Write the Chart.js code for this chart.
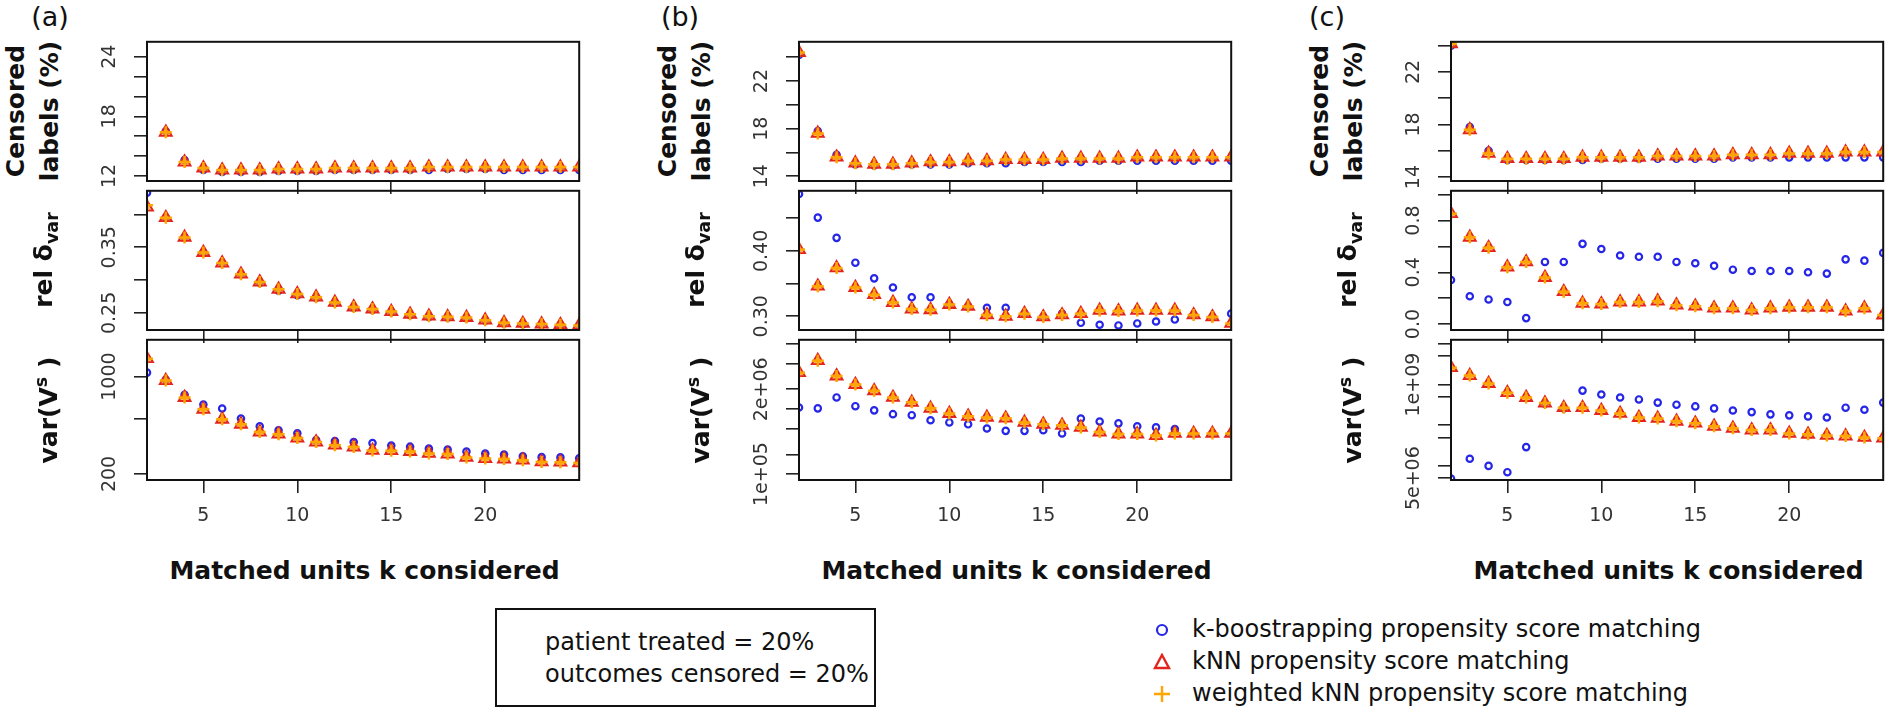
<!DOCTYPE html>
<html>
<head>
<meta charset="utf-8">
<title>Matched units k considered</title>
<script src="https://cdn.jsdelivr.net/npm/chart.js@4.4.1/dist/chart.umd.min.js"></script>
<style>
  body { margin: 0; width: 1895px; height: 711px; background: #fff; position: relative; overflow: hidden;
         font-family: "DejaVu Sans", "Liberation Sans", sans-serif; color: #111; }
  canvas { position: absolute; }
  .tag { position: absolute; font-size: 27px; transform: translate(-50%, -50%); }
  .ytitle { position: absolute; font-weight: bold; font-size: 25px; line-height: 34px; white-space: nowrap;
            text-align: center; transform: translate(-50%, -50%) rotate(-90deg); }
  .ytitle sub, .ytitle sup { font-size: 70%; font-weight: bold; }
  .xtitle { position: absolute; font-weight: bold; font-size: 25px; white-space: nowrap; transform: translate(-50%, -50%); }
  #infoBox { position: absolute; left: 495px; top: 608px; width: 377px; height: 95px; border: 2px solid #111;
             font-size: 24px; line-height: 32px; box-sizing: content-box; }
  #infoBox div { position: absolute; left: 48px; }
  .leg { position: absolute; left: 1150px; height: 30px; font-size: 24px; line-height: 30px; white-space: nowrap; }
  .leg svg { position: absolute; left: 0; top: 7px; }
  .leg span { position: absolute; left: 42px; top: 0; }
</style>
</head>
<body>

<script>
// matched units k on the x axis
const kValues = [2, 3, 4, 5, 6, 7, 8, 9, 10, 11, 12, 13, 14, 15, 16, 17, 18, 19, 20, 21, 22, 23, 24, 25];
const xTicks = [5, 10, 15, 20];

// (a) censored labels (%)
const bootA1 = [null, 16.5, 13.6, 12.6, 12.4, 12.4, 12.4, 12.5, 12.5, 12.5, 12.6, 12.6, 12.6, 12.6, 12.6, 12.6, 12.7, 12.7, 12.7, 12.6, 12.6, 12.6, 12.6, 12.6];
const knnA1  = [null, 16.4, 13.4, 12.8, 12.6, 12.6, 12.6, 12.7, 12.7, 12.7, 12.8, 12.8, 12.8, 12.8, 12.8, 12.9, 12.9, 12.9, 12.9, 12.9, 12.9, 12.9, 12.9, 12.9];
const wknnA1 = [null, 16.4, 13.4, 12.8, 12.6, 12.6, 12.6, 12.7, 12.7, 12.7, 12.8, 12.8, 12.8, 12.8, 12.8, 12.9, 12.9, 12.9, 12.9, 12.9, 12.9, 12.9, 12.9, 12.9];
// (a) rel delta var
const bootA2 = [0.433, 0.395, 0.365, 0.342, 0.326, 0.309, 0.296, 0.284, 0.277, 0.273, 0.265, 0.258, 0.255, 0.251, 0.247, 0.244, 0.243, 0.242, 0.238, 0.234, 0.233, 0.232, 0.231, 0.230];
const knnA2  = [0.411, 0.395, 0.365, 0.342, 0.326, 0.309, 0.297, 0.286, 0.279, 0.274, 0.266, 0.259, 0.256, 0.252, 0.248, 0.245, 0.244, 0.243, 0.239, 0.235, 0.234, 0.233, 0.232, 0.231];
const wknnA2 = [0.414, 0.395, 0.365, 0.342, 0.326, 0.309, 0.297, 0.286, 0.279, 0.274, 0.266, 0.259, 0.256, 0.252, 0.248, 0.245, 0.244, 0.243, 0.239, 0.235, 0.234, 0.233, 0.232, 0.231];
// (a) var(V^s)
const bootA3 = [1068, 950, 740, 631, 590, 500, 440, 412, 392, 350, 344, 339, 333, 320, 314, 304, 299, 290, 280, 276, 268, 264, 263, 259];
const knnA3  = [1345, 936, 708, 582, 494, 455, 400, 386, 362, 339, 322, 312, 295, 294, 290, 281, 278, 263, 258, 256, 251, 244, 243, 240];
const wknnA3 = [1345, 936, 708, 582, 494, 455, 400, 386, 362, 339, 322, 312, 295, 294, 290, 281, 278, 263, 258, 256, 251, 244, 243, 240];

// (b)
const bootB1 = [24.2, 17.8, 15.8, 15.0, 14.9, 14.9, 15.0, 15.0, 15.0, 15.1, 15.1, 15.1, 15.2, 15.2, 15.2, 15.2, 15.3, 15.3, 15.3, 15.3, 15.3, 15.3, 15.3, 15.3];
const knnB1  = [24.4, 17.6, 15.6, 15.1, 15.0, 15.0, 15.1, 15.2, 15.2, 15.3, 15.3, 15.4, 15.4, 15.4, 15.5, 15.5, 15.5, 15.5, 15.6, 15.6, 15.6, 15.6, 15.6, 15.6];
const wknnB1 = [24.4, 17.6, 15.6, 15.1, 15.0, 15.0, 15.1, 15.2, 15.2, 15.3, 15.3, 15.4, 15.4, 15.4, 15.5, 15.5, 15.5, 15.5, 15.6, 15.6, 15.6, 15.6, 15.6, 15.6];
const bootB2 = [0.487, 0.451, 0.420, 0.382, 0.358, 0.344, 0.329, 0.329, 0.318, 0.315, 0.313, 0.313, 0.304, 0.299, 0.304, 0.290, 0.287, 0.286, 0.289, 0.292, 0.295, 0.302, 0.299, 0.304];
const knnB2  = [0.402, 0.346, 0.374, 0.344, 0.333, 0.321, 0.311, 0.310, 0.318, 0.315, 0.302, 0.300, 0.304, 0.299, 0.302, 0.304, 0.309, 0.308, 0.309, 0.309, 0.309, 0.302, 0.299, 0.289];
const wknnB2 = [0.402, 0.346, 0.374, 0.344, 0.333, 0.321, 0.311, 0.310, 0.318, 0.315, 0.302, 0.300, 0.304, 0.299, 0.302, 0.304, 0.309, 0.308, 0.309, 0.309, 0.309, 0.302, 0.299, 0.289];
const bootB3 = [1.05e6, 1.02e6, 1.5e6, 1.1e6, 9.5e5, 8.3e5, 8.0e5, 6.7e5, 6.2e5, 5.8e5, 5.0e5, 4.6e5, 4.6e5, 4.7e5, 4.2e5, 7.1e5, 6.4e5, 6.0e5, 5.4e5, 5.2e5, 4.9e5, 4.2e5, 4.2e5, 4.2e5];
const knnB3  = [3.6e6, 5.5e6, 3.2e6, 2.37e6, 1.9e6, 1.5e6, 1.26e6, 1.02e6, 8.5e5, 7.7e5, 7.4e5, 7.2e5, 6.2e5, 5.8e5, 5.6e5, 5.2e5, 4.4e5, 4.1e5, 4.1e5, 3.9e5, 4.2e5, 4.2e5, 4.2e5, 4.2e5];
const wknnB3 = [3.6e6, 5.5e6, 3.2e6, 2.37e6, 1.9e6, 1.5e6, 1.26e6, 1.02e6, 8.5e5, 7.7e5, 7.4e5, 7.2e5, 6.2e5, 5.8e5, 5.6e5, 5.2e5, 4.4e5, 4.1e5, 4.1e5, 3.9e5, 4.2e5, 4.2e5, 4.2e5, 4.2e5];

// (c)
const bootC1 = [24.0, 17.8, 16.0, 15.3, 15.3, 15.3, 15.3, 15.3, 15.4, 15.4, 15.4, 15.4, 15.4, 15.4, 15.4, 15.5, 15.5, 15.5, 15.5, 15.5, 15.5, 15.5, 15.5, 15.5];
const knnC1  = [24.15, 17.6, 15.8, 15.4, 15.4, 15.4, 15.4, 15.5, 15.5, 15.5, 15.5, 15.6, 15.6, 15.6, 15.6, 15.7, 15.7, 15.7, 15.8, 15.8, 15.8, 15.9, 15.9, 15.9];
const wknnC1 = [24.15, 17.6, 15.8, 15.4, 15.4, 15.4, 15.4, 15.5, 15.5, 15.5, 15.5, 15.6, 15.6, 15.6, 15.6, 15.7, 15.7, 15.7, 15.8, 15.8, 15.8, 15.9, 15.9, 15.9];
const bootC2 = [0.34, 0.215, 0.19, 0.17, 0.046, 0.48, 0.48, 0.62, 0.58, 0.53, 0.52, 0.52, 0.48, 0.47, 0.45, 0.42, 0.41, 0.41, 0.41, 0.40, 0.39, 0.50, 0.49, 0.55];
const knnC2  = [0.853, 0.67, 0.59, 0.44, 0.48, 0.36, 0.25, 0.16, 0.155, 0.17, 0.17, 0.177, 0.146, 0.138, 0.123, 0.123, 0.108, 0.123, 0.13, 0.13, 0.13, 0.10, 0.123, 0.07];
const wknnC2 = [0.853, 0.67, 0.59, 0.44, 0.48, 0.36, 0.25, 0.16, 0.155, 0.17, 0.17, 0.177, 0.146, 0.138, 0.123, 0.123, 0.108, 0.123, 0.13, 0.13, 0.13, 0.10, 0.123, 0.07];
const bootC3 = [4.9e6, 1.5e7, 1.0e7, 7.0e6, 2.9e7, 3.4e8, 2.6e8, 7.1e8, 5.7e8, 4.8e8, 4.3e8, 3.6e8, 3.2e8, 2.9e8, 2.6e8, 2.3e8, 2.1e8, 1.85e8, 1.75e8, 1.65e8, 1.55e8, 2.7e8, 2.4e8, 3.6e8];
const knnC3  = [2.6e9, 1.66e9, 1.06e9, 6.3e8, 4.8e8, 3.5e8, 2.7e8, 2.7e8, 2.3e8, 1.95e8, 1.55e8, 1.47e8, 1.25e8, 1.12e8, 9.4e7, 8.4e7, 7.6e7, 7.6e7, 6.3e7, 6.0e7, 5.6e7, 5.4e7, 5.0e7, 4.8e7];
const wknnC3 = [2.6e9, 1.66e9, 1.06e9, 6.3e8, 4.8e8, 3.5e8, 2.7e8, 2.7e8, 2.3e8, 1.95e8, 1.55e8, 1.47e8, 1.25e8, 1.12e8, 9.4e7, 8.4e7, 7.6e7, 7.6e7, 6.3e7, 6.0e7, 5.6e7, 5.4e7, 5.0e7, 4.8e7];

// y axis limits, tick marks, and which ticks carry a label
const yLimits = {
  A1: [11.5, 25.5], A2: [0.224, 0.436], A3: [181, 1837],
  B1: [13.6, 25.3], B2: [0.279, 0.492], B3: [8.1e4, 1.15e7],
  C1: [13.7, 24.3], C2: [-0.046, 1.03], C3: [4.5e6, 1.26e10]
};
const yTicksA1 = [12, 14, 16, 18, 20, 22, 24], yLabA1 = [12, 18, 24], yTxtA1 = ['12', '18', '24'];
const yTicksA2 = [0.25, 0.30, 0.35, 0.40], yLabA2 = [0.25, 0.35], yTxtA2 = ['0.25', '0.35'];
const yTicksA3 = [200, 500, 1000], yLabA3 = [200, 1000], yTxtA3 = ['200', '1000'];
const yTicksB1 = [14, 16, 18, 20, 22, 24], yLabB1 = [14, 18, 22], yTxtB1 = ['14', '18', '22'];
const yTicksB2 = [0.30, 0.35, 0.40, 0.45], yLabB2 = [0.30, 0.40], yTxtB2 = ['0.30', '0.40'];
const yTicksB3 = [1e5, 2e5, 5e5, 1e6, 2e6, 5e6, 1e7], yLabB3 = [1e5, 2e6], yTxtB3 = ['1e+05', '2e+06'];
const yTicksC1 = [14, 16, 18, 20, 22, 24], yLabC1 = [14, 18, 22], yTxtC1 = ['14', '18', '22'];
const yTicksC2 = [0, 0.2, 0.4, 0.6, 0.8, 1.0], yLabC2 = [0, 0.4, 0.8], yTxtC2 = ['0.0', '0.4', '0.8'];
const yTicksC3 = [5e6, 1e7, 5e7, 1e8, 5e8, 1e9, 5e9, 1e10], yLabC3 = [5e6, 1e9], yTxtC3 = ['5e+06', '1e+09'];

const colTags = ['(a)', '(b)', '(c)'];
const rowTitles = ['Censored<br>labels (%)', 'rel \u03b4<sub>var</sub>', 'var(V<sup>s</sup> )'];
const xTitle = 'Matched units k considered';
const seriesNames = ['k-boostrapping propensity score matching', 'kNN propensity score matching', 'weighted kNN propensity score matching'];

// layout of the 3x3 grid of panels (pixels)
const colLeft = [147, 799, 1451];
const rowTop = [41, 190, 339];
const rowH = [140, 140, 141];
const plotW = 435;
const Y_W = 70, PAD_T = 8, PAD_R = 6;

const BLUE = '#2626e8', RED = '#e3241c', ORANGE = '#ffa500';

Chart.defaults.font.family = '"DejaVu Sans", "Liberation Sans", sans-serif';

const panels = [
  { col: 0, row: 0, boot: bootA1, knn: knnA1, wknn: wknnA1, lim: yLimits.A1, log: false, ticks: yTicksA1, lab: yLabA1, txt: yTxtA1 },
  { col: 0, row: 1, boot: bootA2, knn: knnA2, wknn: wknnA2, lim: yLimits.A2, log: false, ticks: yTicksA2, lab: yLabA2, txt: yTxtA2 },
  { col: 0, row: 2, boot: bootA3, knn: knnA3, wknn: wknnA3, lim: yLimits.A3, log: true, ticks: yTicksA3, lab: yLabA3, txt: yTxtA3 },
  { col: 1, row: 0, boot: bootB1, knn: knnB1, wknn: wknnB1, lim: yLimits.B1, log: false, ticks: yTicksB1, lab: yLabB1, txt: yTxtB1 },
  { col: 1, row: 1, boot: bootB2, knn: knnB2, wknn: wknnB2, lim: yLimits.B2, log: false, ticks: yTicksB2, lab: yLabB2, txt: yTxtB2 },
  { col: 1, row: 2, boot: bootB3, knn: knnB3, wknn: wknnB3, lim: yLimits.B3, log: true, ticks: yTicksB3, lab: yLabB3, txt: yTxtB3 },
  { col: 2, row: 0, boot: bootC1, knn: knnC1, wknn: wknnC1, lim: yLimits.C1, log: false, ticks: yTicksC1, lab: yLabC1, txt: yTxtC1 },
  { col: 2, row: 1, boot: bootC2, knn: knnC2, wknn: wknnC2, lim: yLimits.C2, log: false, ticks: yTicksC2, lab: yLabC2, txt: yTxtC2 },
  { col: 2, row: 2, boot: bootC3, knn: knnC3, wknn: wknnC3, lim: yLimits.C3, log: true, ticks: yTicksC3, lab: yLabC3, txt: yTxtC3 }
];

function toXY(values) {
  return kValues.map((k, i) => ({ x: k, y: values[i] }));
}

// box around the plot region and the rotated y tick labels (R style)
const panelFrame = {
  id: 'panelFrame',
  afterDatasetsDraw(chart, args, opts) {
    const { ctx, chartArea: a } = chart;
    const ys = chart.scales.y;
    ctx.save();
    ctx.strokeStyle = '#111';
    ctx.lineWidth = 2;
    ctx.strokeRect(a.left, a.top, a.right - a.left, a.bottom - a.top);
    ctx.fillStyle = '#333';
    ctx.font = '19px "DejaVu Sans"';
    ctx.textAlign = 'center';
    ctx.textBaseline = 'alphabetic';
    opts.values.forEach((v, i) => {
      ctx.save();
      ctx.translate(a.left - 32, ys.getPixelForValue(v));
      ctx.rotate(-Math.PI / 2);
      ctx.fillText(opts.text[i], 0, 0);
      ctx.restore();
    });
    ctx.restore();
  }
};

function addPanel(p) {
  const bottomRow = p.row === 2;
  const h = rowH[p.row];
  const xH = bottomRow ? 60 : 16;
  const c = document.createElement('canvas');
  c.width = Y_W + plotW + PAD_R;
  c.height = PAD_T + h + xH;
  c.style.width = c.width + 'px';
  c.style.height = c.height + 'px';
  c.style.left = (colLeft[p.col] - Y_W) + 'px';
  c.style.top = (rowTop[p.row] - PAD_T) + 'px';
  document.body.appendChild(c);

  const tickGrid = { drawOnChartArea: false, drawTicks: true, tickLength: 13, color: '#222', lineWidth: 1.6 };

  new Chart(c.getContext('2d'), {
    type: 'scatter',
    data: {
      datasets: [
        { label: seriesNames[2], data: toXY(p.wknn), pointStyle: 'cross', pointRadius: 6,
          borderColor: ORANGE, borderWidth: 2.5, order: 1, clip: 0 },
        { label: seriesNames[1], data: toXY(p.knn), pointStyle: 'triangle', pointRadius: 7,
          borderColor: RED, backgroundColor: 'rgba(255,150,40,0.75)', borderWidth: 1.8, order: 2, clip: 0 },
        { label: seriesNames[0], data: toXY(p.boot), pointStyle: 'circle', pointRadius: 3.2,
          borderColor: BLUE, backgroundColor: 'rgba(0,0,0,0)', borderWidth: 2.2, order: 3, clip: 0 }
      ]
    },
    options: {
      responsive: false,
      maintainAspectRatio: false,
      animation: false,
      events: [],
      layout: { padding: { top: PAD_T, right: PAD_R, left: 0, bottom: 0 } },
      plugins: {
        legend: { display: false },
        tooltip: { enabled: false },
        panelFrame: { values: p.lab, text: p.txt }
      },
      scales: {
        x: {
          type: 'linear',
          min: 2,
          max: 25,
          afterBuildTicks: s => { s.ticks = xTicks.map(v => ({ value: v })); },
          afterFit: s => { s.height = xH; },
          grid: tickGrid,
          border: { display: false },
          ticks: { display: bottomRow, autoSkip: false, maxRotation: 0, padding: 12,
                   color: '#333', font: { size: 19 }, callback: v => String(v) }
        },
        y: {
          type: p.log ? 'logarithmic' : 'linear',
          min: p.lim[0],
          max: p.lim[1],
          afterBuildTicks: s => { s.ticks = p.ticks.map(v => ({ value: v })); },
          afterFit: s => { s.width = Y_W; },
          grid: tickGrid,
          border: { display: false },
          ticks: { display: false }
        }
      }
    },
    plugins: [panelFrame]
  });
}

function addText(cls, html, x, y) {
  const d = document.createElement('div');
  d.className = cls;
  d.innerHTML = html;
  d.style.left = x + 'px';
  d.style.top = y + 'px';
  document.body.appendChild(d);
  return d;
}

panels.forEach(addPanel);

const tagX = [50, 680, 1327];
const titleOffset = [114, 99, 102];
colLeft.forEach((left, ci) => {
  addText('tag', colTags[ci], tagX[ci], 16);
  rowTitles.forEach((t, ri) => {
    addText('ytitle', t, left - titleOffset[ri], rowTop[ri] + rowH[ri] / 2);
  });
  addText('xtitle', xTitle, left + plotW / 2, 570);
});

// settings box
const box = document.createElement('div');
box.id = 'infoBox';
box.innerHTML = '<div style="top:16px">patient treated = 20%</div><div style="top:48px">outcomes censored = 20%</div>';
document.body.appendChild(box);

// series legend
const legendRowsY = [614, 646, 678];
const symbols = [
  '<svg width="24" height="18"><circle cx="12" cy="9" r="5" fill="none" stroke="' + BLUE + '" stroke-width="2.2"/></svg>',
  '<svg width="24" height="18"><polygon points="12,2 19,15 5,15" fill="none" stroke="' + RED + '" stroke-width="2.4"/></svg>',
  '<svg width="24" height="18"><path d="M12 1 V17 M4 9 H20" stroke="' + ORANGE + '" stroke-width="2.4"/></svg>'
];
seriesNames.forEach((name, i) => {
  const d = document.createElement('div');
  d.className = 'leg';
  d.style.top = legendRowsY[i] + 'px';
  d.innerHTML = symbols[i] + '<span>' + name + '</span>';
  document.body.appendChild(d);
});
</script>
</body>
</html>
